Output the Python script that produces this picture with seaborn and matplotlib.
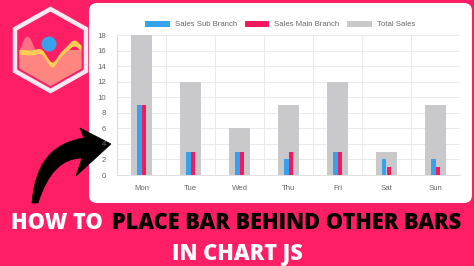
import numpy as np
import pandas as pd
import matplotlib
matplotlib.use("Agg")
import matplotlib.pyplot as plt
import seaborn as sns
from matplotlib.patches import Patch, FancyBboxPatch, Polygon, PathPatch, Circle
from matplotlib.path import Path

# ---- data ----
days = ["Mon", "Tue", "Wed", "Thu", "Fri", "Sat", "Sun"]
sales_sub = [9, 3, 3, 2, 3, 2, 2]
sales_main = [9, 3, 3, 3, 3, 1, 1]
total_sales = [18, 12, 6, 9, 12, 3, 9]
series_names = ["Sales Sub Branch", "Sales Main Branch", "Total Sales"]
y_ticks = list(range(0, 19, 2))
title_white1 = "HOW TO"
title_black = "PLACE BAR BEHIND OTHER BARS"
title_line2 = "IN CHART JS"

PINK = "#FD1E66"
BLUE = "#36A2EB"
RED = "#F2195C"
GRAY = "#C9C9CB"
TXT = "#666666"
GRID = "#E6E6E6"

sns.set_theme(style="white")
plt.rcParams["font.family"] = ["Liberation Sans", "DejaVu Sans"]

W, H = 474, 266
fig = plt.figure(figsize=(W / 100, H / 100), dpi=100, facecolor=PINK)

# ---- background decoration layer (pixel coordinates) ----
bg = fig.add_axes([0, 0, 1, 1], zorder=0)
bg.set_xlim(0, W)
bg.set_ylim(H, 0)
bg.axis("off")
bg.set_facecolor(PINK)

panel = FancyBboxPatch((89, 3), 383, 200, boxstyle="round,pad=0,rounding_size=8",
                       facecolor="white", edgecolor="none")
bg.add_patch(panel)

# logo: hexagon with chart waves
hexv = np.array([(50.5, 9), (86, 29), (86, 71), (50.5, 91), (15, 71), (15, 29)])
inner = np.array([(50.5, 14), (81.5, 31.5), (81.5, 68.5), (50.5, 86), (19.5, 68.5), (19.5, 31.5)])
clip = Polygon(inner, closed=True, transform=bg.transData, facecolor="none", edgecolor="none")
bg.add_patch(clip)
xs = np.linspace(15, 86, 80)
pinkwave = 62 - 26 * np.exp(-((xs - 27) / 9) ** 2) + 8 * np.exp(-((xs - 55) / 8) ** 2) - 6 * np.exp(-((xs - 75) / 8) ** 2)
pw = bg.fill_between(xs, pinkwave, 100, color="#FF6F85", lw=0)
yel = 50 + 12 * np.exp(-((xs - 52) / 7) ** 2) - 10 * np.exp(-((xs - 74) / 8) ** 2) - 2 * np.exp(-((xs - 40) / 5) ** 2)
yw = bg.fill_between(xs, yel, yel + 6 + 0 * xs, color="#FFCD56", lw=0)
salmon = yel + 5
sw = bg.fill_between(xs, np.maximum(salmon, 50), 100, color="#FF8580", lw=0)
blob = Circle((49, 44), 7.5, color=BLUE, lw=0)
bg.add_patch(blob)
for art in (pw, yw, sw, blob):
    art.set_clip_path(clip)
bg.add_patch(Polygon(hexv, closed=True, facecolor="none", edgecolor="#F6E9F0", lw=3.2, joinstyle="miter"))

# curved arrow (custom tapered shape)
verts = [(32, 203), (36, 145), (84, 138),
         (80, 128), (111, 144), (76, 176), (82, 158),
         (52, 158), (38, 203), (32, 203)]
codes = [Path.MOVETO, Path.CURVE3, Path.CURVE3,
         Path.LINETO, Path.LINETO, Path.LINETO, Path.LINETO,
         Path.CURVE3, Path.CURVE3, Path.CLOSEPOLY]
bg.add_patch(PathPatch(Path(verts, codes), facecolor="black", edgecolor="black", lw=0.5))

# title text
renderer = fig.canvas.get_renderer()
fs = 14
tkw = dict(fontsize=fs, fontweight="heavy", family=["Open Sans", "DejaVu Sans"], va="baseline", ha="left")
t1 = bg.text(0, 229, title_white1, color="white", **tkw)
t2 = bg.text(0, 229, title_black, color="black", **tkw)
w1 = t1.get_window_extent(renderer).width
w2 = t2.get_window_extent(renderer).width
gap = 9
scale = 453 / (w1 + gap + w2)
fs2 = fs * scale
t1.set_fontsize(fs2)
t2.set_fontsize(fs2)
w1 *= scale
w2 *= scale
x0 = 237 - (w1 + gap + w2) / 2
t1.set_x(x0)
t2.set_x(x0 + w1 + gap)
tkw2 = dict(tkw)
tkw2.update(fontsize=fs2, ha="center")
bg.text(237, 260, title_line2, color="white", **tkw2)

# ---- chart ----
L, R, T, B = 117, 460, 35, 175
ax = fig.add_axes([L / W, (H - B) / H, (R - L) / W, (B - T) / H], zorder=2)
ax.set_facecolor("none")

df_total = pd.DataFrame({"day": days, "value": total_sales})
df_long = pd.DataFrame({
    "day": days * 2,
    "value": sales_sub + sales_main,
    "series": [series_names[0]] * len(days) + [series_names[1]] * len(days),
})

sns.barplot(data=df_total, x="day", y="value", color=GRAY, width=0.43,
            errorbar=None, saturation=1, ax=ax, zorder=2, linewidth=0)
sns.barplot(data=df_long, x="day", y="value", hue="series", palette=[BLUE, RED],
            width=0.17, errorbar=None, saturation=1, ax=ax, legend=False, zorder=3,
            linewidth=0)

ax.set_xlim(-0.5, len(days) - 0.5)
ax.set_ylim(0, 18)
ax.set_yticks(y_ticks)
ax.set_yticklabels([str(v) for v in y_ticks])
ax.set_xlabel("")
ax.set_ylabel("")
ax.set_xticks(np.arange(len(days)))
ax.set_xticklabels(days)
ax.set_xticks(np.arange(len(days) + 1) - 0.5, minor=True)
ax.tick_params(axis="x", which="major", length=0, pad=7, labelsize=5.6, labelcolor=TXT)
ax.tick_params(axis="x", which="minor", length=5, width=0.6, color=GRID)
ax.tick_params(axis="y", length=4, width=0.6, color=GRID, pad=4, labelsize=5.6, labelcolor=TXT)
ax.grid(True, axis="y", color=GRID, lw=0.6, zorder=0)
ax.grid(True, axis="x", which="minor", color=GRID, lw=0.6, zorder=0)
ax.set_axisbelow(True)
for s in ["top", "right"]:
    ax.spines[s].set_visible(False)
for s in ["left", "bottom"]:
    ax.spines[s].set_color("#DADADA")
    ax.spines[s].set_linewidth(0.6)

handles = [Patch(facecolor=BLUE, edgecolor="none"),
           Patch(facecolor=RED, edgecolor="none"),
           Patch(facecolor=GRAY, edgecolor="none")]
leg = ax.legend(handles, series_names, ncol=3, loc="center",
                bbox_to_anchor=((280 - L) / (R - L), 1 + 10.5 / (B - T)),
                frameon=False, fontsize=5.6, handlelength=3.2, handleheight=0.9,
                columnspacing=1.0, handletextpad=0.6, borderaxespad=0)
for t in leg.get_texts():
    t.set_color(TXT)

fig.savefig("out.png", dpi=100, facecolor=PINK)
